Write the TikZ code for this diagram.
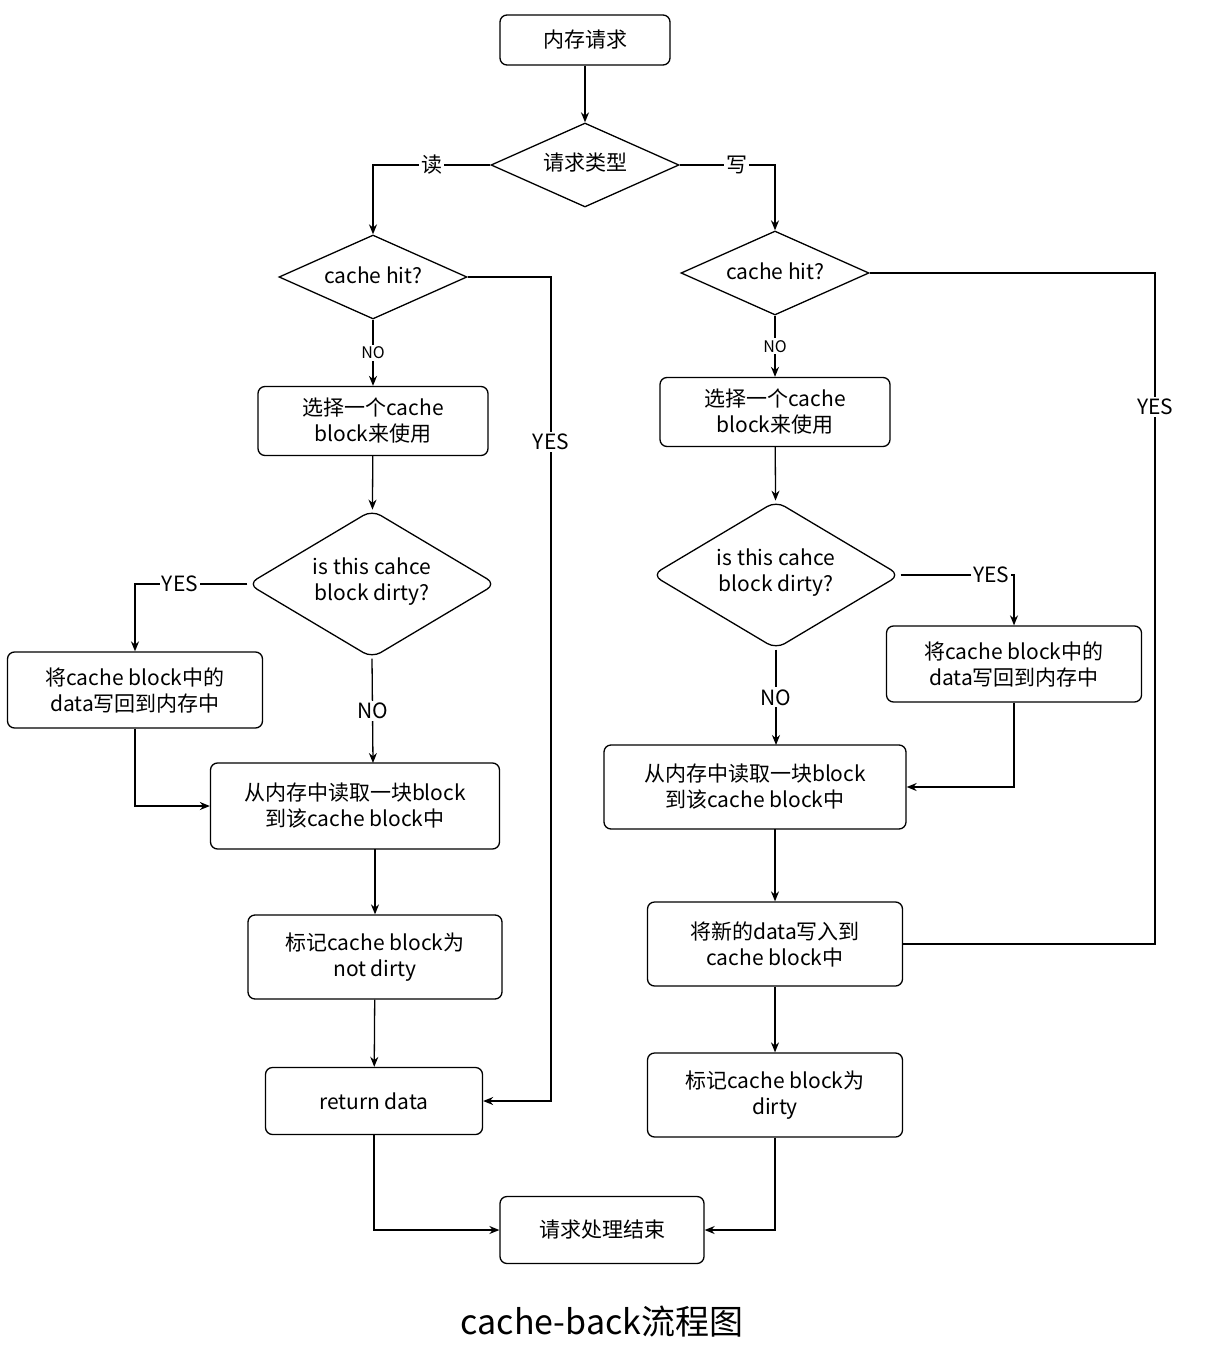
\documentclass[tikz,border=0pt]{standalone}
\usepackage{fontspec}
\setmainfont{Noto Sans CJK SC}
\usetikzlibrary{shapes.geometric,arrows.meta}
\begin{document}
\begin{tikzpicture}[x=1pt,y=-1pt,
  every node/.style={font=\fontsize{21}{26}\selectfont, align=center, inner sep=0pt},
  box/.style={draw, line width=1.3pt, rounded corners=7pt},
  dia/.style={draw, line width=1.3pt, diamond, aspect=2.2},
  arr/.style={-{Stealth[length=10pt,width=8pt]}, line width=1.3pt},
  ln/.style={line width=1.3pt},
  lab/.style={fill=white, inner sep=2pt}]
\useasboundingbox (0,0) rectangle (1224,1348);
\node[box, minimum width=170pt, minimum height=50pt] (start) at (585,40) {内存请求};
\node[draw,line width=1.3pt,shape=diamond,minimum width=188pt,minimum height=84pt, shape aspect=2.2] (type) at (585,165) {};
\node at (585,163) {请求类型};
\node[draw,line width=1.3pt,diamond,minimum width=188pt,minimum height=84pt] (lhit) at (373,277) {};
\node at (373,275) {cache hit?};
\node[draw,line width=1.3pt,diamond,minimum width=188pt,minimum height=84pt] (rhit) at (775,273) {};
\node at (775,271) {cache hit?};
\node[box, minimum width=230pt, minimum height=69pt] (lsel) at (373,421) {选择一个cache\\block来使用};
\node[box, minimum width=230pt, minimum height=69pt] (rsel) at (775,412) {选择一个cache\\block来使用};
\node[draw,line width=1.3pt,diamond,rounded corners=10pt,minimum width=248pt,minimum height=148pt] (ldirty) at (372,584) {};
\node at (372,582) {is this cahce\\block dirty?};
\node[draw,line width=1.3pt,diamond,rounded corners=10pt,minimum width=248pt,minimum height=148pt] (rdirty) at (776,575) {};
\node at (776,573) {is this cahce\\block dirty?};
\node[box, minimum width=255pt, minimum height=76pt] (lwb) at (135,690) {将cache block中的\\data写回到内存中};
\node[box, minimum width=255pt, minimum height=76pt] (rwb) at (1014,664) {将cache block中的\\data写回到内存中};
\node[box, minimum width=289pt, minimum height=86pt] (lread) at (355,806) {从内存中读取一块block\\到该cache block中};
\node[box, minimum width=302pt, minimum height=84pt] (rread) at (755,787) {从内存中读取一块block\\到该cache block中};
\node[box, minimum width=254pt, minimum height=84pt] (lmark) at (375,957) {标记cache block为\\not dirty};
\node[box, minimum width=255pt, minimum height=84pt] (rnew) at (775,944) {将新的data写入到\\cache block中};
\node[box, minimum width=217pt, minimum height=67pt] (ret) at (374,1101) {return data};
\node[box, minimum width=255pt, minimum height=84pt] (rmark) at (775,1095) {标记cache block为\\dirty};
\node[box, minimum width=204pt, minimum height=67pt] (end) at (602,1230) {请求处理结束};
\node[font=\fontsize{34}{40}\selectfont] (title) at (602,1322) {cache-back流程图};

\draw[arr] (start) -- (type);
\draw[arr] (type.west) -| (lhit.north) node[pos=0.25, lab] {读};
\draw[arr] (type.east) -| (rhit.north) node[pos=0.3, lab] {写};
\draw[arr] (lhit) -- (lsel) node[midway, lab, font=\fontsize{16}{18}\selectfont] {NO};
\draw[arr] (rhit) -- (rsel) node[midway, lab, font=\fontsize{16}{18}\selectfont] {NO};
\draw[arr] (lhit.east) -| (551,1101) node[pos=0.6, lab] {YES} -- (ret.east);
\draw[ln] (rhit.east) -| (1155,944) node[pos=0.6, lab] {YES} -- (rnew.east);
\draw[arr] (lsel) -- (ldirty);
\draw[arr] (rsel) -- (rdirty);
\draw[arr] (ldirty.west) -| (lwb.north) node[pos=0.3, lab] {YES};
\draw[arr] (rdirty.east) -| (rwb.north) node[pos=0.4, lab] {YES};
\draw[arr] (ldirty.south) -- (373,763) node[midway, lab] {NO};
\draw[arr] (rdirty.south) -- (776,745) node[midway, lab] {NO};
\draw[arr] (lwb.south) |- (lread.west);
\draw[arr] (rwb.south) |- (rread.east);
\draw[arr] (375,849) -- (lmark.north);
\draw[arr] (lmark) -- (ret);
\draw[arr] (775,829) -- (rnew.north);
\draw[arr] (rnew) -- (rmark);
\draw[arr] (ret.south) |- (end.west);
\draw[arr] (rmark.south) |- (end.east);
\end{tikzpicture}
\end{document}
